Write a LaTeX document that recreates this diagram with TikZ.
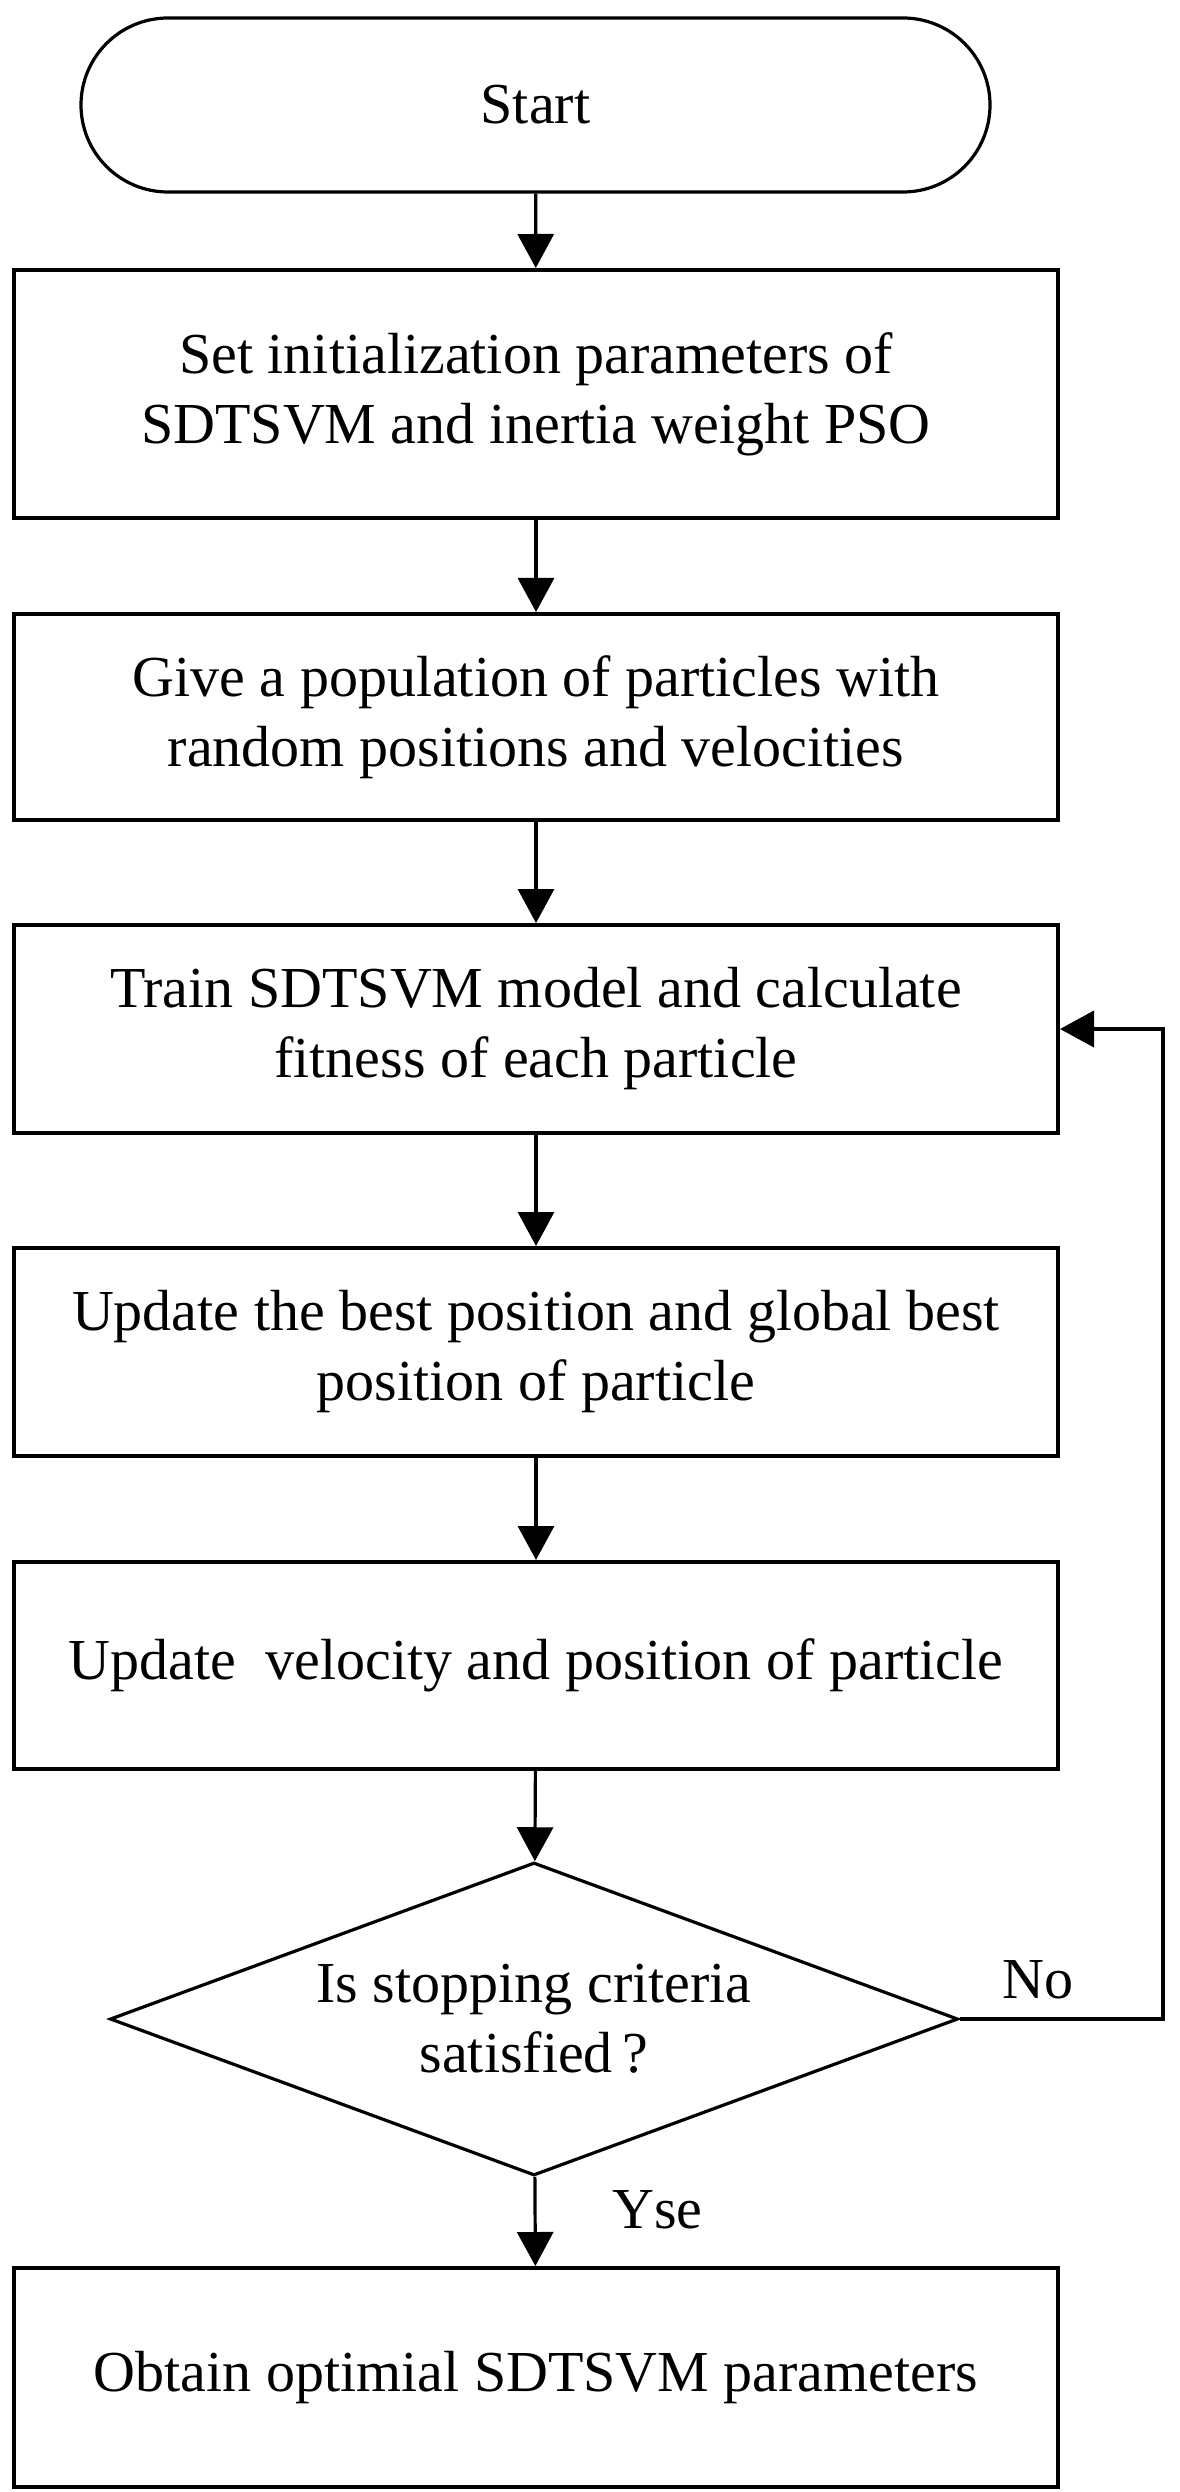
\documentclass[tikz,border=0pt]{standalone}
\usepackage{fontspec}
\setmainfont{Liberation Serif}
\usetikzlibrary{arrows.meta,shapes.geometric,shapes.misc}
\begin{document}
\begin{tikzpicture}[x=0.5pt,y=-0.5pt,
  txt/.style={font=\fontsize{29}{35}\selectfont, align=center, inner sep=0pt},
  procbox/.style={txt, draw, line width=2pt, minimum width=522pt},
  termbox/.style={txt, draw, line width=1.6pt, rounded rectangle, minimum width=454.5pt, minimum height=87pt},
  decbox/.style={txt, draw, line width=1.6pt, diamond, aspect=2.71, minimum width=424pt, minimum height=156.5pt},
  flow/.style={line width=1.6pt, -{Triangle[width=18pt,length=17pt]}},
  lbl/.style={font=\fontsize{29}{35}\selectfont, inner sep=0pt}
]
\useasboundingbox (0,0) rectangle (1179,2492);
\node[termbox] (start) at (535.5,105) {Start};
\node[procbox, minimum height=124pt] (b1) at (536,394) {Set initialization parameters of\\SDTSVM and inertia weight PSO};
\node[procbox, minimum height=103pt] (b2) at (536,717) {Give a population of particles with\\random positions and velocities};
\node[procbox, minimum height=104pt] (b3) at (536,1029) {Train SDTSVM model and calculate\\fitness of each particle};
\node[procbox, minimum height=104pt] (b4) at (536,1352) {Update the best position and global best\\position of particle};
\node[procbox, minimum height=103.5pt] (b5) at (536,1665.5) {Update~\ velocity and position of particle};
\node[decbox] (dec) at (534,2019) {Is stopping criteria\\satisfied\,?};
\node[procbox, minimum height=109.5pt] (b6) at (536,2377.5) {Obtain optimial SDTSVM parameters};
\coordinate (lp) at (1163,2019);
\draw[flow] (start) -- (b1);
\draw[flow] (b1) -- (b2);
\draw[flow] (b2) -- (b3);
\draw[flow] (b3) -- (b4);
\draw[flow] (b4) -- (b5);
\draw[flow] (b5) -- (dec);
\draw[flow] (dec) -- (b6);
\draw[flow, line width=2pt] (dec.east) -- (lp) |- (b3.east);
\node[lbl, anchor=base] (no) at (1038,1998) {No};
\node[lbl, anchor=base west] (yes) at (612,2228) {Yse};
\end{tikzpicture}
\end{document}
